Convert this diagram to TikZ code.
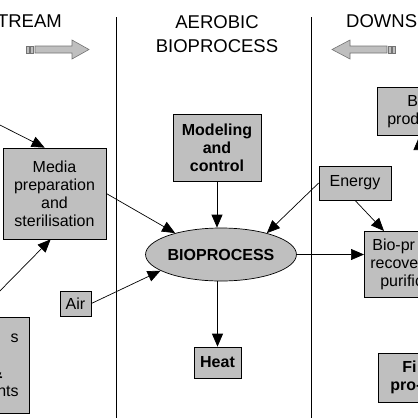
\documentclass[tikz,border=0pt]{standalone}
\usepackage{fontspec}
\setmainfont{Liberation Sans}
\usetikzlibrary{shapes.geometric,arrows.meta}

\begin{document}
\begin{tikzpicture}[x=1pt,y=-1pt,
  greybox/.style={draw,fill=black!25,line width=0.7pt,inner sep=0pt,align=center,font=\fontsize{16}{18}\selectfont},
  boldbox/.style={greybox,font=\fontsize{16}{18}\selectfont\bfseries},
  heading/.style={inner sep=0pt,align=center,font=\fontsize{18.5}{24}\selectfont},
  flow/.style={-{Triangle[length=13pt,width=11pt]},line width=0.7pt},
  blockarrow/.style={draw=black!55,fill=black!25,line width=0.6pt}]
  \useasboundingbox (0,0) rectangle (418,418);
  \clip (0,0) rectangle (418,418);
  % headings and dividers
  \node[heading,anchor=east] (upstr) at (62,21) {TREAM};
  \node[heading] (aerob) at (217,34) {AEROBIC\\BIOPROCESS};
  \node[heading,anchor=west] (downstr) at (346,21) {DOWNS};
  \draw[line width=0.9pt] (116,17) -- (116,420);
  \draw[line width=0.9pt] (311,17) -- (311,420);
  % block arrows
  \draw[blockarrow] (35,46) -- (72,46) -- (72,40) -- (89,49.5) -- (72,59) -- (72,53) -- (35,53) -- cycle;
  \foreach \x in {26,30}{\draw[blockarrow] (\x,46) rectangle ++(3.5,7);}
  \draw[blockarrow] (387,46) -- (350,46) -- (350,40) -- (332,49.5) -- (350,59) -- (350,53) -- (387,53) -- cycle;
  \foreach \x in {388,392}{\draw[blockarrow] (\x,46) rectangle ++(3.5,7);}
  % boxes
  \node[greybox,minimum width=103,minimum height=91] (media) at (54.5,193.5) {Media\\preparation\\and\\sterilisation};
  \node[boldbox,minimum width=88,minimum height=67] (model) at (217,147.5) {Modeling\\and\\control};
  \node[boldbox,ellipse,minimum width=148,minimum height=53] (bio) at (221,254.5) {BIOPROCESS};
  \node[boldbox,minimum width=47,minimum height=31] (heat) at (217.5,362.5) {Heat};
  \node[greybox,minimum width=31,minimum height=25] (air) at (75.5,303.5) {Air};
  \node[greybox,minimum width=72,minimum height=34] (energy) at (355,183) {Energy};
  \node[greybox,anchor=north west,align=left,text width=100,inner xsep=6pt,minimum height=66] (recov) at (364,231) {\hspace*{2pt}Bio-pr\\recove\\\hspace*{10pt}purific};
  \node[greybox,anchor=north west,align=left,text width=60,inner xsep=10pt,minimum height=48] (prod) at (377,87) {\hspace*{20pt}B\\prod};
  \node[boldbox,anchor=north west,align=left,text width=60,inner xsep=12pt,minimum height=49] (final) at (378,353) {\hspace*{12pt}Fi\\pro-};
  \node[greybox,anchor=north east,align=right,text width=90,inner xsep=11pt,minimum height=96] (raw) at (30,317) {s\\\mbox{}\\\mbox{\textbf{\&}\hspace{16pt}}\\nts};
  % connectors
  \coordinate (inA) at (-10,120);
  \coordinate (inB) at (-10,301);
  \coordinate (outC) at (419,232);
  \coordinate (tipC) at (419,137);
  \draw[flow] (inA) -- ([xshift=42pt]media.north west);
  \draw[flow] (inB) -- ([xshift=48pt]media.south west);
  \draw[flow] (media.east) -- (bio.155);
  \draw[flow] (air.east) -- (bio.195);
  \draw[flow] (model.south) -- (model.south |- bio.north);
  \draw[flow] (heat.north |- bio.south) -- (heat.north);
  \draw[flow] (energy.west) -- (bio.25);
  \draw[flow] (energy.south) -- ([xshift=20pt]recov.north west);
  \draw[flow] (bio.east) -- (bio.east -| recov.west);
  \draw[flow] (outC) -- (tipC);
\end{tikzpicture}
\end{document}
